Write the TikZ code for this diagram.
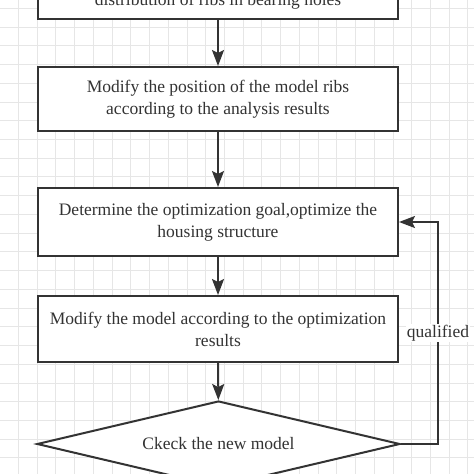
\documentclass[tikz,border=0pt]{standalone}
\usepackage{fontspec}
\setmainfont{Liberation Serif}
\usepackage{tikz}
\usetikzlibrary{arrows.meta,positioning,shapes.geometric}
\definecolor{inkgray}{RGB}{51,51,51}
\definecolor{gridgray}{RGB}{230,230,230}
\tikzset{
  stepbox/.style={rectangle,draw=inkgray,fill=white,line width=2pt,
    minimum width=360pt,inner sep=0pt,align=center,text=inkgray,
    font=\fontsize{17.5}{22}\selectfont},
  decision/.style={diamond,draw=inkgray,fill=white,line width=2pt,aspect=4.2,
    minimum width=363pt,minimum height=86pt,inner sep=0pt,text=inkgray,
    font=\fontsize{17.5}{22}\selectfont},
  flowarrow/.style={-{Stealth[length=16pt,width=12pt,inset=3pt]},line width=2pt,draw=inkgray},
  loopnote/.style={fill=white,inner sep=1pt,text=inkgray,font=\fontsize{17.5}{22}\selectfont},
  gridline/.style={draw=gridgray,line width=0.8pt}
}

\begin{document}
\begin{tikzpicture}[x=1pt,y=-1pt]

\fill[white] (0,0) rectangle (474,474);
\useasboundingbox (0,0) rectangle (474,474);

% background grid
\foreach \k in {0,...,25}{
  \draw[gridline] ({-0.4+18.73*\k},0) -- ({-0.4+18.73*\k},474);
  \draw[gridline] (0,{8.3+18.73*\k}) -- (474,{8.3+18.73*\k});
}

% steps
\node[stepbox,minimum height=58pt] (analyse) at (218,-10.4)
  {\strut\\\strut distribution of ribs in bearing holes};
\node[stepbox,minimum height=64pt] (ribs) at (218,99)
  {Modify the position of the model ribs\\according to the analysis results};
\node[stepbox,minimum height=68pt] (optimize) at (218,222)
  {Determine the optimization goal,optimize the\\housing structure};
\node[stepbox,minimum height=66pt] (remodel) at (218,329)
  {Modify the model according to the optimization\\results};
\node[decision] (check) at (218.5,444) {Ckeck the new model};

\draw[flowarrow] (analyse) -- (ribs);
\draw[flowarrow] (ribs) -- (optimize);
\draw[flowarrow] (optimize) -- (remodel);
\draw[flowarrow] (remodel) -- (check);

% loop back
\coordinate (loopx) at (438,444);
\draw[flowarrow] (check.east) -- (loopx) |- (optimize.east)
  node[loopnote,pos=0.25] {qualified};

\end{tikzpicture}
\end{document}
